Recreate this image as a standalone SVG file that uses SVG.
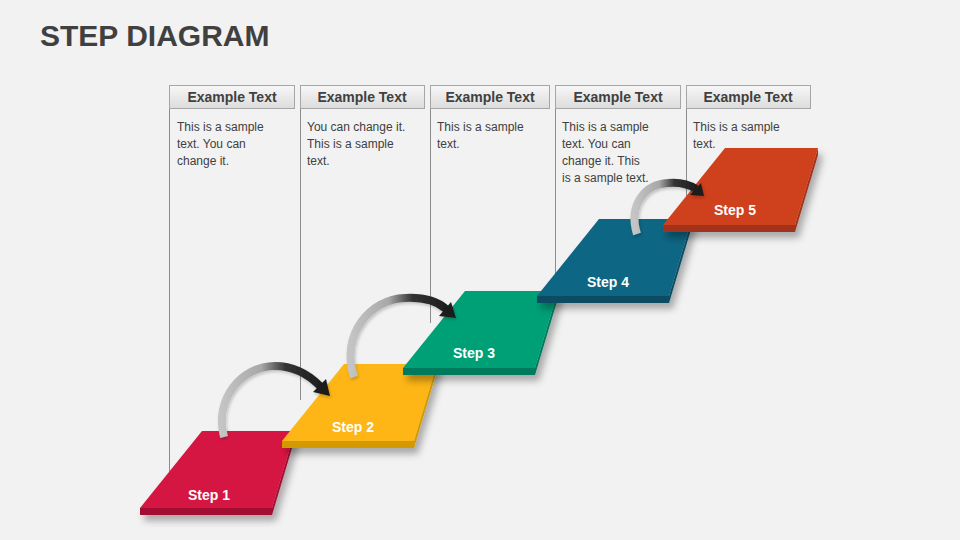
<svg xmlns="http://www.w3.org/2000/svg" width="960" height="540" viewBox="0 0 960 540">
  <defs>
    <style>
      .title{font-family:"Liberation Sans",Arial,sans-serif;font-weight:bold;font-size:30px;fill:#404040}
      .hbox{fill:url(#hgrad);stroke:#a6a6a6;stroke-width:1}
      .htxt{font-family:"Liberation Sans",Arial,sans-serif;font-weight:bold;font-size:14px;fill:#404040;text-anchor:middle}
      .btxt{font-family:"Liberation Sans",Arial,sans-serif;font-size:12px;fill:#404040}
      .col{stroke:#8c8c8c;stroke-width:1;fill:none}
      .stxt{font-family:"Liberation Sans",Arial,sans-serif;font-weight:bold;font-size:14px;fill:#ffffff;text-anchor:middle}
      .band{fill:none;stroke-width:8;stroke-linecap:butt}
      .head{fill:#1e1e1e}
    </style>
    <linearGradient id="hgrad" x1="0" y1="0" x2="0" y2="1">
      <stop offset="0" stop-color="#f7f7f7"/>
      <stop offset="1" stop-color="#dcdcdc"/>
    </linearGradient>
    <linearGradient id="agrad" x1="0" y1="0" x2="1" y2="0">
      <stop offset="0" stop-color="#c4c4c4"/>
      <stop offset="0.4" stop-color="#a8a8a8"/>
      <stop offset="0.65" stop-color="#333333"/>
      <stop offset="1" stop-color="#1e1e1e"/>
    </linearGradient>
    <filter id="shadow" x="-20%" y="-20%" width="150%" height="160%">
      <feDropShadow dx="4" dy="6" stdDeviation="3.5" flood-color="#000" flood-opacity="0.3"/>
    </filter>
    <filter id="ashadow" x="-20%" y="-20%" width="150%" height="150%">
      <feDropShadow dx="1" dy="2" stdDeviation="1.5" flood-color="#000" flood-opacity="0.2"/>
    </filter>
  </defs>

  <rect x="0" y="0" width="960" height="540" fill="#f2f2f2"/>

  <text class="title" x="40" y="46">STEP DIAGRAM</text>

  <!-- columns -->
  <g id="col1">
    <line class="col" x1="169.5" y1="108" x2="169.5" y2="478"/>
    <rect class="hbox" x="169.5" y="85.5" width="125" height="23"/>
    <text class="htxt" x="232" y="102">Example Text</text>
    <text class="btxt" x="177" y="131">This is a sample</text>
    <text class="btxt" x="177" y="148">text. You can</text>
    <text class="btxt" x="177" y="165">change it.</text>
  </g>
  <g id="col2">
    <line class="col" x1="300.5" y1="108" x2="300.5" y2="400"/>
    <rect class="hbox" x="300.5" y="85.5" width="124" height="23"/>
    <text class="htxt" x="362" y="102">Example Text</text>
    <text class="btxt" x="307" y="131">You can change it.</text>
    <text class="btxt" x="307" y="148">This is a sample</text>
    <text class="btxt" x="307" y="165">text.</text>
  </g>
  <g id="col3">
    <line class="col" x1="430.5" y1="108" x2="430.5" y2="323"/>
    <rect class="hbox" x="430.5" y="85.5" width="119" height="23"/>
    <text class="htxt" x="490" y="102">Example Text</text>
    <text class="btxt" x="437" y="131">This is a sample</text>
    <text class="btxt" x="437" y="148">text.</text>
  </g>
  <g id="col4">
    <line class="col" x1="555.5" y1="108" x2="555.5" y2="280"/>
    <rect class="hbox" x="555.5" y="85.5" width="125" height="23"/>
    <text class="htxt" x="618" y="102">Example Text</text>
    <text class="btxt" x="562" y="131">This is a sample</text>
    <text class="btxt" x="562" y="148">text. You can</text>
    <text class="btxt" x="562" y="165">change it. This</text>
    <text class="btxt" x="562" y="182">is a sample text.</text>
  </g>
  <g id="col5">
    <line class="col" x1="686.5" y1="108" x2="686.5" y2="200"/>
    <rect class="hbox" x="686.5" y="85.5" width="124" height="23"/>
    <text class="htxt" x="748" y="102">Example Text</text>
    <text class="btxt" x="693" y="131">This is a sample</text>
    <text class="btxt" x="693" y="148">text.</text>
  </g>

  <!-- steps -->
  <g id="step1" transform="translate(140,508)">
    <g filter="url(#shadow)">
      <polygon points="0,0 132,0 132,7 0,7" fill="#a30d32"/>
      <polygon points="132,0 155,-77 155,-70 132,7" fill="#a30d32"/>
      <polygon points="0,0 132,0 155,-77 62,-77" fill="#d61442"/>
    </g>
    <text class="stxt" x="69" y="-8">Step 1</text>
  </g>
  <g id="step2" transform="translate(282,441)">
    <g filter="url(#shadow)">
      <polygon points="0,0 132,0 132,7 0,7" fill="#d29a00"/>
      <polygon points="132,0 155,-77 155,-70 132,7" fill="#d29a00"/>
      <polygon points="0,0 132,0 155,-77 62,-77" fill="#fdb614"/>
    </g>
    <text class="stxt" x="71" y="-9">Step 2</text>
  </g>
  <g id="step3" transform="translate(403,368)">
    <g filter="url(#shadow)">
      <polygon points="0,0 132,0 132,7 0,7" fill="#067a5c"/>
      <polygon points="132,0 155,-77 155,-70 132,7" fill="#067a5c"/>
      <polygon points="0,0 132,0 155,-77 62,-77" fill="#06a077"/>
    </g>
    <text class="stxt" x="71" y="-10">Step 3</text>
  </g>
  <g id="step4" transform="translate(537,296)">
    <g filter="url(#shadow)">
      <polygon points="0,0 132,0 132,7 0,7" fill="#0a4c62"/>
      <polygon points="132,0 155,-77 155,-70 132,7" fill="#0a4c62"/>
      <polygon points="0,0 132,0 155,-77 62,-77" fill="#0e6683"/>
    </g>
    <text class="stxt" x="71" y="-9">Step 4</text>
  </g>
  <g id="step5" transform="translate(663,225)">
    <g filter="url(#shadow)">
      <polygon points="0,0 132,0 132,7 0,7" fill="#a1321a"/>
      <polygon points="132,0 155,-77 155,-70 132,7" fill="#a1321a"/>
      <polygon points="0,0 132,0 155,-77 62,-77" fill="#cf401c"/>
    </g>
    <text class="stxt" x="72" y="-10">Step 5</text>
  </g>

  <!-- connectors -->
  <g id="connectors" filter="url(#ashadow)">
    <g id="arrow1-2">
      <path class="band" stroke="url(#agrad)" d="M224,437 C214,398 242,366 275,366 C295,366 310,376 320,386"/>
      <polygon class="head" points="330,396 313,392 326,379"/>
    </g>
    <g id="arrow2-3">
      <path class="band" stroke="url(#agrad)" d="M354,377 C340,335 370,299 405,298 C425,297 438,302 446,309"/>
      <polygon class="head" points="456,318 439,316 451,302"/>
    </g>
    <g id="arrow4-5">
      <path class="band" stroke="url(#agrad)" stroke-width="7" d="M637,234 C628,205 645,184 668,183 C680,182 690,185 696,189"/>
      <polygon class="head" points="704,196 690,195 701,183"/>
    </g>
  </g>
</svg>
